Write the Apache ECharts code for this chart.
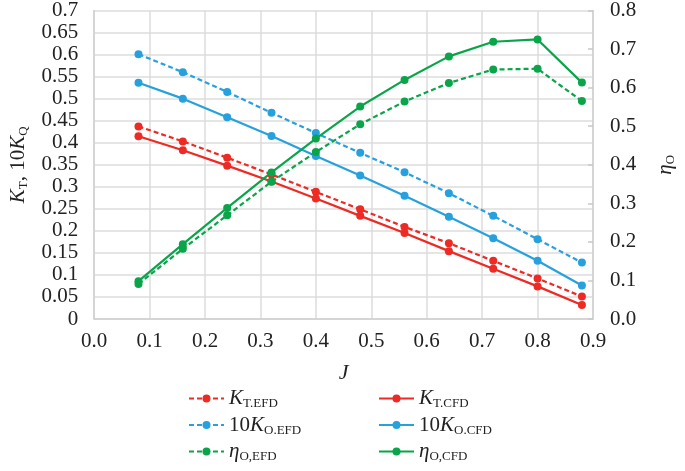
<!DOCTYPE html>
<html>
<head>
<meta charset="utf-8">
<script src="https://cdn.jsdelivr.net/npm/echarts@6/dist/echarts.min.js"></script>
<style>
  html, body { margin: 0; padding: 0; background: #fff; }
  #chart { width: 685px; height: 471px; }
</style>
</head>
<body>
<div id="chart"></div>
<script>
// advance coefficient J
const jValues = [0.08, 0.16, 0.24, 0.32, 0.40, 0.48, 0.56, 0.64, 0.72, 0.80, 0.88];

// left axis
const ktEfd = [0.437, 0.403, 0.366, 0.328, 0.2885, 0.249, 0.209, 0.172, 0.132, 0.092, 0.051];
const ktCfd = [0.4145, 0.383, 0.348, 0.312, 0.2735, 0.234, 0.195, 0.154, 0.114, 0.074, 0.032];
const kqEfd = [0.601, 0.560, 0.515, 0.468, 0.422, 0.377, 0.333, 0.2855, 0.234, 0.181, 0.128];
const kqCfd = [0.536, 0.500, 0.458, 0.415, 0.370, 0.3255, 0.2795, 0.232, 0.183, 0.132, 0.076];

// right axis
const etaEfd = [0.091, 0.182, 0.269, 0.356, 0.433, 0.505, 0.564, 0.612, 0.647, 0.649, 0.565];
const etaCfd = [0.098, 0.194, 0.288, 0.380, 0.468, 0.551, 0.620, 0.681, 0.719, 0.725, 0.613];

const RED = '#ED2A24';
const BLUE = '#27A1DE';
const GREEN = '#0AA54B';
const SERIF = '"Liberation Serif", "DejaVu Serif", serif';

const legendLabels = {
  'KT.EFD': '{i|K}{s|T.EFD}',
  'KT.CFD': '{i|K}{s|T.CFD}',
  '10KO.EFD': '{n|10}{i|K}{s|O.EFD}',
  '10KO.CFD': '{n|10}{i|K}{s|O.CFD}',
  'etaO,EFD': '{i|η}{s|O,EFD}',
  'etaO,CFD': '{i|η}{s|O,CFD}'
};

const richText = {
  n: { fontFamily: SERIF, fontSize: 21, color: '#222', lineHeight: 24 },
  i: { fontFamily: SERIF, fontSize: 21, fontStyle: 'italic', color: '#222', lineHeight: 24 },
  s: { fontFamily: SERIF, fontSize: 13, color: '#222', lineHeight: 24, verticalAlign: 'bottom', padding: [9, 0, 0, 0] }
};

const pts = (arr) => jValues.map((j, k) => [j, arr[k]]);

const makeSeries = (name, data, color, dashed, yIdx) => ({
  name: name,
  type: 'line',
  yAxisIndex: yIdx,
  data: pts(data),
  symbol: 'circle',
  symbolSize: 8,
  itemStyle: { color: color },
  lineStyle: { color: color, width: 2.2, type: dashed ? [5, 3] : 'solid' },
  emphasis: { disabled: true }
});

const chart = echarts.init(document.getElementById('chart'));

const legendBase = {
  orient: 'vertical',
  top: 383,
  itemWidth: 35,
  itemHeight: 10,
  itemGap: 4,
  formatter: (name) => legendLabels[name],
  textStyle: { rich: richText }
};

chart.setOption({
  animation: false,
  grid: { left: 87, right: 79, top: 10, bottom: 152 },
  legend: [
    Object.assign({}, legendBase, { left: 183, data: ['KT.EFD', '10KO.EFD', 'etaO,EFD'] }),
    Object.assign({}, legendBase, { left: 373, data: ['KT.CFD', '10KO.CFD', 'etaO,CFD'] })
  ],
  xAxis: {
    type: 'value',
    min: 0,
    max: 0.9,
    interval: 0.1,
    name: 'J',
    nameLocation: 'middle',
    nameGap: 43,
    nameTextStyle: { fontFamily: SERIF, fontSize: 22, fontStyle: 'italic', color: '#222' },
    axisLine: { show: true, lineStyle: { color: '#d0d0d0', width: 1.5 } },
    axisTick: { show: false },
    axisLabel: {
      fontFamily: SERIF, fontSize: 21, color: '#222', margin: 12,
      formatter: (v) => v.toFixed(1)
    },
    splitLine: { show: true, lineStyle: { color: '#dcdcdc', width: 1.5 } }
  },
  yAxis: [
    {
      type: 'value',
      min: 0,
      max: 0.7,
      interval: 0.05,
      name: '{i|K}{s|T}{n|, 10}{i|K}{s|Q}',
      nameLocation: 'middle',
      nameGap: 58,
      nameRotate: 90,
      nameTextStyle: { rich: richText },
      axisLine: { show: true, lineStyle: { color: '#d0d0d0', width: 1.5 } },
      axisTick: { show: false },
      axisLabel: {
        fontFamily: SERIF, fontSize: 21, color: '#222', margin: 16,
        formatter: (v) => String(Math.round(v * 100) / 100)
      },
      splitLine: { show: true, lineStyle: { color: '#dcdcdc', width: 1.5 } }
    },
    {
      type: 'value',
      position: 'right',
      min: 0,
      max: 0.8,
      interval: 0.1,
      name: '{i|η}{s|O}',
      nameLocation: 'middle',
      nameGap: 60,
      nameRotate: 90,
      nameTextStyle: { rich: richText },
      axisLine: { show: true, lineStyle: { color: '#d0d0d0', width: 1.5 } },
      axisTick: { show: true, inside: true, length: 5, lineStyle: { color: '#c8c8c8', width: 1.5 } },
      axisLabel: {
        fontFamily: SERIF, fontSize: 21, color: '#222', margin: 17,
        formatter: (v) => v.toFixed(1)
      },
      splitLine: { show: false }
    }
  ],
  series: [
    makeSeries('KT.EFD', ktEfd, RED, true, 0),
    makeSeries('KT.CFD', ktCfd, RED, false, 0),
    makeSeries('10KO.EFD', kqEfd, BLUE, true, 0),
    makeSeries('10KO.CFD', kqCfd, BLUE, false, 0),
    makeSeries('etaO,EFD', etaEfd, GREEN, true, 1),
    makeSeries('etaO,CFD', etaCfd, GREEN, false, 1)
  ]
});
</script>
</body>
</html>
